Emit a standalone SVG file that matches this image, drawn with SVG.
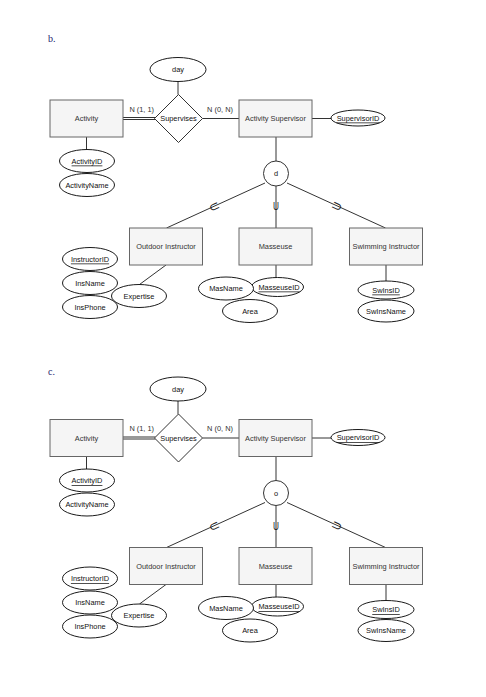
<svg xmlns="http://www.w3.org/2000/svg" width="486" height="697" viewBox="0 0 486 697">
<style>
.bg{fill:#ffffff}
.ent{fill:#f5f5f5;stroke:#666666;stroke-width:1}
.att{fill:#ffffff;stroke:#000000;stroke-width:0.9}
.rel{fill:#ffffff;stroke:#333333;stroke-width:1}
.ln{stroke:#333333;stroke-width:1;fill:none}
.t{font-family:"Liberation Sans",Arial,sans-serif;font-size:7.4px;text-anchor:middle;dominant-baseline:central;fill:#333333}
.ta{font-family:"Liberation Sans",Arial,sans-serif;font-size:7.4px;text-anchor:middle;dominant-baseline:central;fill:#111111}
.u{text-decoration:underline}
.sym{font-family:"DejaVu Sans",sans-serif;font-size:13px;text-anchor:middle;dominant-baseline:central;fill:#222222}
.symu{font-family:"Liberation Sans",Arial,sans-serif;font-size:11px;text-anchor:middle;dominant-baseline:central;fill:#222222}
.lab{font-family:"Liberation Serif","Times New Roman",serif;font-size:10px;fill:#23236e}
</style>
<rect class="bg" x="0" y="0" width="486" height="697"/>

<g id="diagram-b">
<text class="lab" x="48" y="42">b.</text>
<g id="b-connectors">
<line class="ln" x1="178" y1="81.5" x2="178" y2="94.5"/>
<line class="ln" x1="123" y1="117.5" x2="155.5" y2="117.5"/>
<line class="ln" x1="123" y1="119.5" x2="155.5" y2="119.5"/>
<line class="ln" x1="202.5" y1="118.5" x2="239" y2="118.5"/>
<line class="ln" x1="312" y1="118.5" x2="331" y2="118.5"/>
<line class="ln" x1="86.5" y1="137" x2="86.5" y2="149.5"/>
<line class="ln" x1="276" y1="137" x2="276" y2="161"/>
<line class="ln" x1="265" y1="183" x2="166.5" y2="228"/>
<line class="ln" x1="276" y1="186" x2="276" y2="228"/>
<line class="ln" x1="287" y1="183" x2="385.5" y2="228"/>
<line class="ln" x1="166" y1="265" x2="139.5" y2="284.5"/>
<line class="ln" x1="276" y1="265" x2="276" y2="277.5"/>
<line class="ln" x1="386" y1="265" x2="386" y2="281"/>
<text class="t" x="141.7" y="109">N (1, 1)</text>
<text class="t" x="220" y="109">N (0, N)</text>
<text class="sym" transform="translate(214,206.3) rotate(-24.5)">⊂</text>
<text class="symu" transform="translate(276,206.5) scale(0.75,1)">U</text>
<text class="sym" transform="translate(337,205.8) rotate(24.5)">⊃</text>
</g>
<g id="b-day"><ellipse class="att" cx="178" cy="69.5" rx="28" ry="12"/><text class="ta" x="178" y="69.5">day</text></g>
<g id="b-supervises"><polygon class="rel" points="178.5,94.5 202.5,118.5 178.5,142.5 154.5,118.5"/><text class="ta" x="178.5" y="118.5">Supervises</text></g>
<g id="b-activity"><rect class="ent" x="50" y="100" width="73" height="37"/><text class="t" x="86.5" y="118.5">Activity</text></g>
<g id="b-activity-supervisor"><rect class="ent" x="239" y="100" width="73" height="37"/><text class="t" x="275.5" y="118.5">Activity Supervisor</text></g>
<g id="b-supervisorid"><ellipse class="att" cx="358" cy="118" rx="27" ry="8"/><text class="ta u" x="358" y="118">SupervisorID</text></g>
<g id="b-activityid"><ellipse class="att" cx="87" cy="161" rx="27.5" ry="11.5"/><text class="ta u" x="87" y="161">ActivityID</text></g>
<g id="b-activityname"><ellipse class="att" cx="87" cy="185" rx="27.5" ry="11.5"/><text class="ta" x="87" y="185">ActivityName</text></g>
<g id="b-disjoint"><circle class="rel" cx="276" cy="173.5" r="12.5"/><text class="ta" x="276" y="173.5">d</text></g>
<g id="b-outdoor"><rect class="ent" x="129.5" y="228" width="73" height="37"/><text class="t" x="166" y="246.5">Outdoor Instructor</text></g>
<g id="b-masseuse"><rect class="ent" x="239" y="228" width="73" height="37"/><text class="t" x="275.5" y="246.5">Masseuse</text></g>
<g id="b-swimming"><rect class="ent" x="349.5" y="228" width="73" height="37"/><text class="t" x="386" y="246.5">Swimming Instructor</text></g>
<g id="b-instructorid"><ellipse class="att" cx="90" cy="259" rx="27.5" ry="11.5"/><text class="ta u" x="90" y="259">InstructorID</text></g>
<g id="b-insname"><ellipse class="att" cx="90" cy="283" rx="27.5" ry="11.5"/><text class="ta" x="90" y="283">InsName</text></g>
<g id="b-insphone"><ellipse class="att" cx="90" cy="307" rx="27.5" ry="11.5"/><text class="ta" x="90" y="307">InsPhone</text></g>
<g id="b-expertise"><ellipse class="att" cx="139" cy="296" rx="27.5" ry="11.5"/><text class="ta" x="139" y="296">Expertise</text></g>
<g id="b-masseuseid"><ellipse class="att" cx="277.5" cy="287" rx="26" ry="9.5"/><text class="ta u" x="279" y="287">MasseuseID</text></g>
<g id="b-masname"><ellipse class="att" cx="226" cy="288.5" rx="27.5" ry="11.5"/><text class="ta" x="226" y="288.5">MasName</text></g>
<g id="b-area"><ellipse class="att" cx="250" cy="311" rx="27.5" ry="11.5"/><text class="ta" x="250" y="311">Area</text></g>
<g id="b-swinsid"><ellipse class="att" cx="386" cy="290" rx="28" ry="9"/><text class="ta u" x="386" y="290">SwInsID</text></g>
<g id="b-swinsname"><ellipse class="att" cx="386" cy="311" rx="28" ry="11"/><text class="ta" x="386" y="311">SwInsName</text></g>
</g>

<g id="diagram-c">
<text class="lab" x="48" y="375">c.</text>
<g transform="translate(0,319.5)">
<g id="c-connectors">
<line class="ln" x1="178" y1="81.5" x2="178" y2="94.5"/>
<line class="ln" x1="123" y1="117.5" x2="155.5" y2="117.5"/>
<line class="ln" x1="123" y1="119.5" x2="155.5" y2="119.5"/>
<line class="ln" x1="202.5" y1="118.5" x2="239" y2="118.5"/>
<line class="ln" x1="312" y1="118.5" x2="331" y2="118.5"/>
<line class="ln" x1="86.5" y1="137" x2="86.5" y2="149.5"/>
<line class="ln" x1="276" y1="137" x2="276" y2="161"/>
<line class="ln" x1="265" y1="183" x2="166.5" y2="228"/>
<line class="ln" x1="276" y1="186" x2="276" y2="228"/>
<line class="ln" x1="287" y1="183" x2="385.5" y2="228"/>
<line class="ln" x1="166" y1="265" x2="139.5" y2="284.5"/>
<line class="ln" x1="276" y1="265" x2="276" y2="277.5"/>
<line class="ln" x1="386" y1="265" x2="386" y2="281"/>
<text class="t" x="141.7" y="109">N (1, 1)</text>
<text class="t" x="220" y="109">N (0, N)</text>
<text class="sym" transform="translate(214,206.3) rotate(-24.5)">⊂</text>
<text class="symu" transform="translate(276,206.5) scale(0.75,1)">U</text>
<text class="sym" transform="translate(337,205.8) rotate(24.5)">⊃</text>
</g>
<g id="c-day"><ellipse class="att" cx="178" cy="69.5" rx="28" ry="12"/><text class="ta" x="178" y="69.5">day</text></g>
<g id="c-supervises"><polygon class="rel" points="178.5,94.5 202.5,118.5 178.5,142.5 154.5,118.5"/><text class="ta" x="178.5" y="118.5">Supervises</text></g>
<g id="c-activity"><rect class="ent" x="50" y="100" width="73" height="37"/><text class="t" x="86.5" y="118.5">Activity</text></g>
<g id="c-activity-supervisor"><rect class="ent" x="239" y="100" width="73" height="37"/><text class="t" x="275.5" y="118.5">Activity Supervisor</text></g>
<g id="c-supervisorid"><ellipse class="att" cx="358" cy="118" rx="27" ry="8"/><text class="ta u" x="358" y="118">SupervisorID</text></g>
<g id="c-activityid"><ellipse class="att" cx="87" cy="161" rx="27.5" ry="11.5"/><text class="ta u" x="87" y="161">ActivityID</text></g>
<g id="c-activityname"><ellipse class="att" cx="87" cy="185" rx="27.5" ry="11.5"/><text class="ta" x="87" y="185">ActivityName</text></g>
<g id="c-overlap"><circle class="rel" cx="276" cy="173.5" r="12.5"/><text class="ta" x="276" y="173.5">o</text></g>
<g id="c-outdoor"><rect class="ent" x="129.5" y="228" width="73" height="37"/><text class="t" x="166" y="246.5">Outdoor Instructor</text></g>
<g id="c-masseuse"><rect class="ent" x="239" y="228" width="73" height="37"/><text class="t" x="275.5" y="246.5">Masseuse</text></g>
<g id="c-swimming"><rect class="ent" x="349.5" y="228" width="73" height="37"/><text class="t" x="386" y="246.5">Swimming Instructor</text></g>
<g id="c-instructorid"><ellipse class="att" cx="90" cy="259" rx="27.5" ry="11.5"/><text class="ta u" x="90" y="259">InstructorID</text></g>
<g id="c-insname"><ellipse class="att" cx="90" cy="283" rx="27.5" ry="11.5"/><text class="ta" x="90" y="283">InsName</text></g>
<g id="c-insphone"><ellipse class="att" cx="90" cy="307" rx="27.5" ry="11.5"/><text class="ta" x="90" y="307">InsPhone</text></g>
<g id="c-expertise"><ellipse class="att" cx="139" cy="296" rx="27.5" ry="11.5"/><text class="ta" x="139" y="296">Expertise</text></g>
<g id="c-masseuseid"><ellipse class="att" cx="277.5" cy="287" rx="26" ry="9.5"/><text class="ta u" x="279" y="287">MasseuseID</text></g>
<g id="c-masname"><ellipse class="att" cx="226" cy="288.5" rx="27.5" ry="11.5"/><text class="ta" x="226" y="288.5">MasName</text></g>
<g id="c-area"><ellipse class="att" cx="250" cy="311" rx="27.5" ry="11.5"/><text class="ta" x="250" y="311">Area</text></g>
<g id="c-swinsid"><ellipse class="att" cx="386" cy="290" rx="28" ry="9"/><text class="ta u" x="386" y="290">SwInsID</text></g>
<g id="c-swinsname"><ellipse class="att" cx="386" cy="311" rx="28" ry="11"/><text class="ta" x="386" y="311">SwInsName</text></g>
</g>
</g>
</svg>
